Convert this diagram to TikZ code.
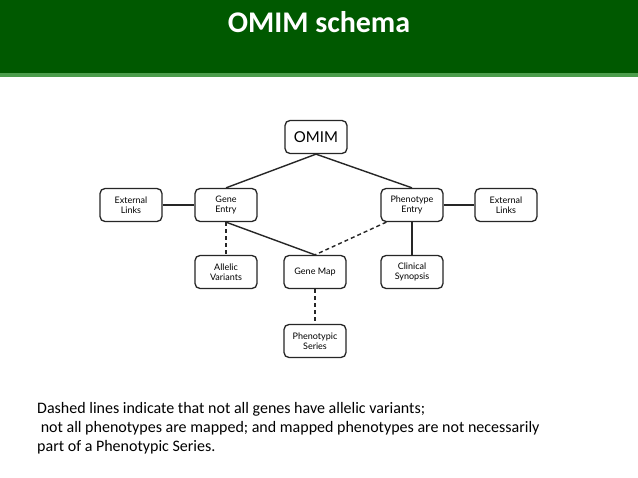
\documentclass[tikz,border=0pt]{standalone}
\usepackage{fontspec}
\setmainfont{Carlito}
\newfontfamily\diagfont{Lato}
\begin{document}
\begin{tikzpicture}[x=1pt,y=-1pt,
  box/.style={draw=black!85,line width=1.3pt,rounded corners=5pt,minimum width=62pt,minimum height=33pt,align=center,font=\diagfont\fontsize{9}{10.5}\selectfont,inner sep=1pt},
  ln/.style={line width=1.4pt,black!85},
  dl/.style={ln,dash pattern=on 4pt off 3pt}]
\useasboundingbox (0,0) rectangle (638,478);
\fill[white] (0,0) rectangle (638,478);
\fill[green!35!black] (0,0) rectangle (638,75);
\fill[green!45!black!70] (0,73) rectangle (638,77);
\node[text=white,font=\fontsize{30}{34}\selectfont\bfseries] (title) at (319,22) {OMIM schema};
\node[box,font=\diagfont\fontsize{15}{17}\selectfont] (omim) at (316,137) {OMIM};
\node[box] (gene) at (226,205) {Gene\\Entry};
\node[box] (extl) at (131,205) {External\\Links};
\node[box] (phen) at (412,205) {Phenotype\\Entry};
\node[box] (extr) at (506,205) {External\\Links};
\node[box] (allel) at (226,272) {Allelic\\Variants};
\node[box] (gmap) at (315,272) {Gene Map};
\node[box] (clin) at (412,272) {Clinical\\Synopsis};
\node[box] (pser) at (315,341) {Phenotypic\\Series};
\draw[ln] (omim.south) -- (gene.north);
\draw[ln] (omim.south) -- (phen.north);
\draw[ln] (extl) -- (gene);
\draw[ln] (phen) -- (extr);
\draw[ln] (gene.south) -- (gmap.north);
\draw[dl] (phen.south west) ++(6,0) coordinate (pa) (pa) -- (gmap.north);
\draw[dl] (gene.south) -- (allel.north);
\draw[ln] (phen.south) -- (clin.north);
\draw[dl] (gmap.south) -- (pser.north);
\node[anchor=north west,align=left,font=\fontsize{16}{19}\selectfont,inner sep=0] (cap) at (37,402) {Dashed lines indicate that not all genes have allelic variants;\\\ not all phenotypes are mapped; and mapped phenotypes are not necessarily\\part of a Phenotypic Series.};
\end{tikzpicture}
\end{document}
